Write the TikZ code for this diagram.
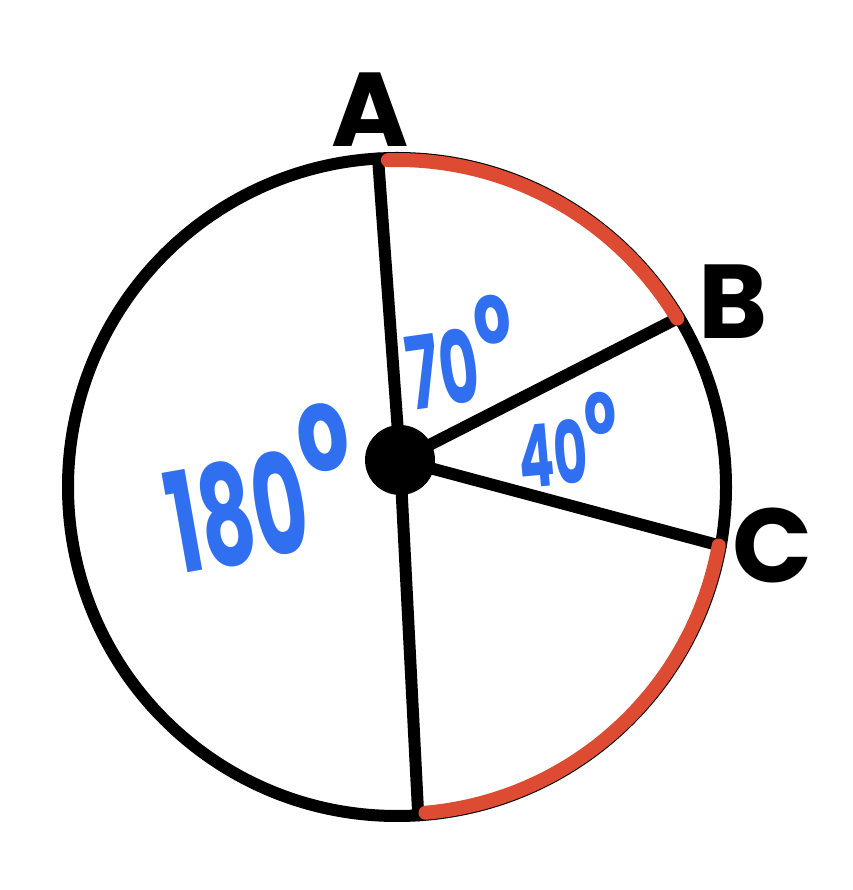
\documentclass[tikz,border=0pt]{standalone}
\usepackage{fontspec}
\newfontfamily\hand{Poppins}
\definecolor{rojo}{RGB}{220,75,50}
\definecolor{azul}{RGB}{48,112,240}
\usetikzlibrary{calc}
\newcommand{\grad}{\raisebox{0.07em}{\scalebox{1.35}{°}}}
\tikzstyle{rim}  =[line width=12pt]
\tikzstyle{spoke}=[line width=12pt, line cap=round]
\tikzstyle{arco} =[line width=14pt, rojo, line cap=round]
\tikzstyle{hub}  =[circle, fill, minimum size=70pt,
                    inner sep=0pt, outer sep=0pt]
\tikzstyle{letra}=[font=\hand\bfseries\fontsize{105}{105}\selectfont]
\tikzstyle{grado}=[text=azul, inner sep=0pt,
                    font=\hand\bfseries\fontsize{140}{140}\selectfont]
\begin{document}
\begin{tikzpicture}[x=1pt,y=1pt]
        \useasboundingbox (0,0) rectangle (852,890);

        \coordinate (M) at (397,403);
        \draw[rim] (M) circle (329);

        \node[hub] (O) at (400,430) {};

        \foreach \n/\a in {A/93.3,B/31,C/-10.3,D/-86.3}
            \coordinate (\n) at ($(M)+(\a:329)$);

        \foreach \n in {A,B,C,D}
            \draw[spoke] (O.center) -- (\n);

        \draw[arco] ($(M)+(91.6:327)$) arc[start angle=91.6, end angle=31, radius=327];
        \draw[arco] ($(M)+(-10.3:327)$) arc[start angle=-10.3, end angle=-85, radius=327];

        \node[letra] (lA) at (370,780) {A};
        \node[letra] (lB) at (733,588) {B};
        \node[letra] (lC) at (772,345) {C};

        \node[grado, rotate=10] (g180) at (260,402) {\scalebox{0.6}[1]{180\grad}};
        \node[grado, rotate=8, scale=0.72] (g70) at (460,538) {\scalebox{0.6}[1]{70\grad}};
        \node[grado, rotate=5, scale=0.62] (g40) at (568,450) {\scalebox{0.6}[1]{40\grad}};

\end{tikzpicture}
\end{document}
